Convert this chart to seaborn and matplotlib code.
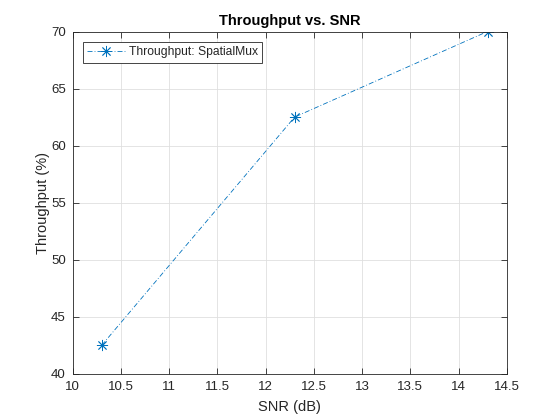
import matplotlib
matplotlib.use("Agg")
import matplotlib.pyplot as plt
import seaborn as sns
import pandas as pd

snr_db = [10.3, 12.3, 14.3]
throughput = [42.5, 62.5, 70.0]
series_name = "Throughput: SpatialMux"
x_ticks = [10, 10.5, 11, 11.5, 12, 12.5, 13, 13.5, 14, 14.5]
y_ticks = [40, 45, 50, 55, 60, 65, 70]

sns.set_style("white")
plt.rcParams['font.family'] = ['Liberation Sans', 'DejaVu Sans']

df = pd.DataFrame({"SNR": snr_db, "Throughput": throughput, "series": series_name})

fig = plt.figure(figsize=(5.6, 4.2), dpi=100)
ax = fig.add_axes([0.13, 0.11, 0.775, 0.815])
blue = "#0072BD"
dark = "#262626"
sns.lineplot(data=df, x="SNR", y="Throughput", ax=ax, color=blue,
             linewidth=0.6, marker=(8, 2, 0), markersize=8, markeredgewidth=0.6,
             markeredgecolor=blue, markerfacecolor=blue, label=series_name)
for ln in ax.get_lines():
    ln.set_dashes([6, 2.5, 1, 2.5])

ax.set_xlim(10, 14.5)
ax.set_ylim(40, 70)
ax.set_xticks(x_ticks)
ax.set_xticklabels([f"{t:g}" for t in x_ticks])
ax.set_yticks(y_ticks)
ax.grid(True, color="#dfdfdf", linewidth=0.6)
ax.set_axisbelow(True)
for s in ax.spines.values():
    s.set_visible(True)
    s.set_color(dark)
    s.set_linewidth(0.6)
ax.tick_params(direction="in", length=4, width=0.6, colors=dark, labelsize=9.5,
               top=True, right=True, bottom=True, left=True, pad=5)
ax.set_xlabel("SNR (dB)", fontsize=10.5, color=dark, labelpad=5)
ax.set_ylabel("Throughput (%)", fontsize=10.5, color=dark, labelpad=1)
ax.set_title("Throughput vs. SNR", fontsize=10.5, fontweight="bold", color="black", pad=5)
leg = ax.legend(loc="upper left", fontsize=8.7, frameon=True, fancybox=False,
                edgecolor=dark, framealpha=1, borderpad=0.35, handlelength=3.1,
                handletextpad=0.3, borderaxespad=0,
                bbox_to_anchor=(0.024, 0.969))
leg.get_frame().set_linewidth(0.6)
for h in leg.get_lines():
    h.set_dashes([6, 2.5, 1, 2.5])

fig.savefig("out.png", dpi=100)
